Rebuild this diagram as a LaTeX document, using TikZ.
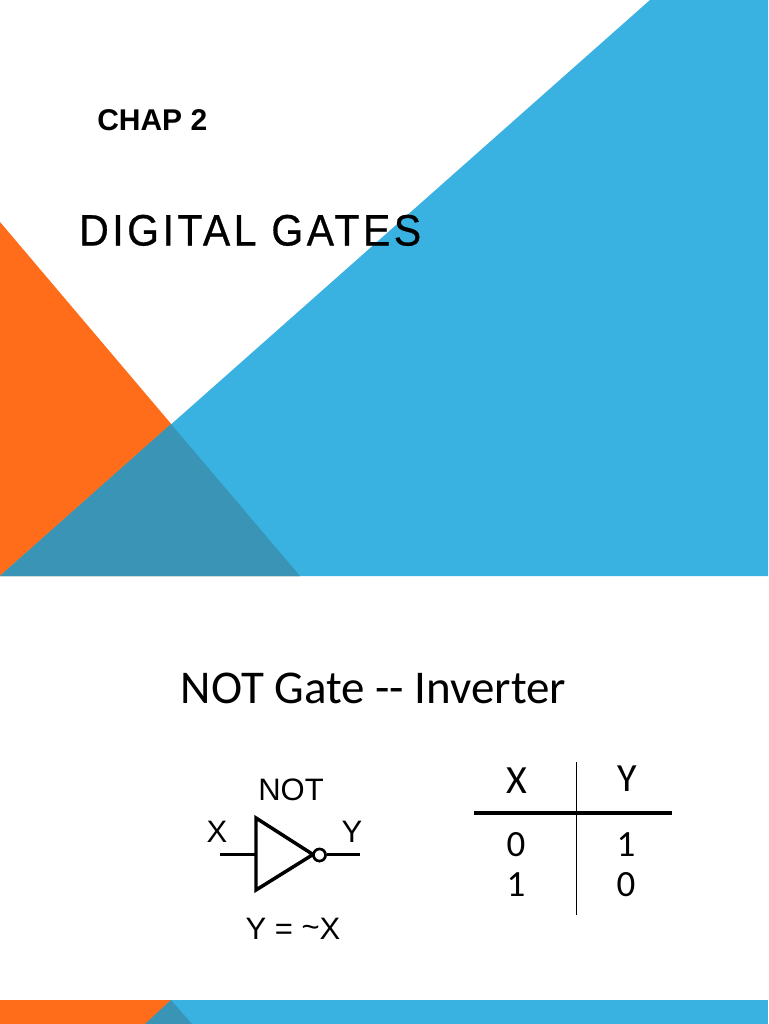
\documentclass[tikz,border=0pt]{standalone}
\usepackage{fontspec}
\setmainfont{Liberation Sans}
\newfontfamily\titlefont[LetterSpace=8,FakeStretch=0.93,FakeBold=0.6]{Liberation Sans}
\newfontfamily\headfont{Carlito}
\newcommand{\px}[1]{\fontsize{\the\dimexpr #1pt*3/4\relax}{\the\dimexpr #1pt*9/10\relax}\selectfont}
\definecolor{skyb}{RGB}{57,178,226}
\definecolor{orng}{RGB}{255,108,26}
\definecolor{darkt}{RGB}{58,148,181}
\tikzset{
  txt/.style={inner sep=0pt,anchor=base,text=black},
  wire/.style={line width=2.6pt,line cap=butt,draw=black},
  gatebody/.style={line width=2.6pt,line join=miter,draw=black}
}
\begin{document}
\begin{tikzpicture}[x=0.75pt,y=-0.75pt]
\useasboundingbox (0,0) rectangle (768,1024);
\fill[white] (0,0) rectangle (768,1024);
% top slide
\fill[orng] (0,222) -- (300,576) -- (0,576) -- cycle;
\fill[skyb] (650,0) -- (768,0) -- (768,576) -- (0,576) -- cycle;
\fill[darkt] (171,424) -- (300,576) -- (0,576) -- cycle;
% bottom strip
\fill[orng] (0,1000) rectangle (172,1024);
\fill[skyb] (171,1000) rectangle (768,1024);
\fill[darkt] (171,1000) -- (192,1024) -- (145,1024) -- cycle;
% titles
\node[txt,anchor=base west] (chap) at (97,130) {\px{30}\bfseries CHAP 2};
\node[txt,anchor=base west] (dg) at (79,245.5) {\titlefont\px{44}DIGITAL GATES};
\node[txt] (nt) at (373.5,703) {\headfont\px{47}NOT Gate -- Inverter};
% gate
\coordinate (a) at (256,818);
\coordinate (b) at (256,890);
\coordinate (c) at (313,854.5);
\coordinate (inL) at (220,854.5);
\coordinate (inR) at (256,854.5);
\coordinate (outR) at (360,854.5);
\node[circle,draw=black,line width=1.9pt,inner sep=0pt,minimum size=9pt,fill=white] (bub) at (319.5,855) {};
\draw[gatebody] (a) -- (c) -- (b) -- cycle;
\draw[wire] (inL) -- (inR);
\draw[wire] (bub.east |- outR) -- (outR);
\node[circle,draw=black,line width=1.9pt,inner sep=0pt,minimum size=9pt,fill=white] (bubtop) at (bub) {};
\node[txt] (tnot) at (291,800) {\px{31}NOT};
\node[txt] (tx) at (217,842) {\px{31}X};
\node[txt] (ty) at (352,842) {\px{31}Y};
\node[txt] (eq) at (293,939) {\px{31}Y = \raisebox{0.1ex}{\textasciitilde}X};
% table
\coordinate (v1) at (576.5,762);
\coordinate (v2) at (576.5,915);
\coordinate (h1) at (474,813);
\coordinate (h2) at (672,813);
\draw[black,line width=1.2pt] (v1) -- (v2);
\draw[black,line width=2.6pt] (h1) -- (h2);
\node[txt] (hx) at (517,793) {\headfont\px{40}X};
\node[txt] (hy) at (627,791) {\headfont\px{40}Y};
\node[txt] (c11) at (516,856) {\headfont\px{37}0};
\node[txt] (c12) at (626,856) {\headfont\px{37}1};
\node[txt] (c21) at (516,896) {\headfont\px{37}1};
\node[txt] (c22) at (626,896) {\headfont\px{37}0};
\end{tikzpicture}
\end{document}
